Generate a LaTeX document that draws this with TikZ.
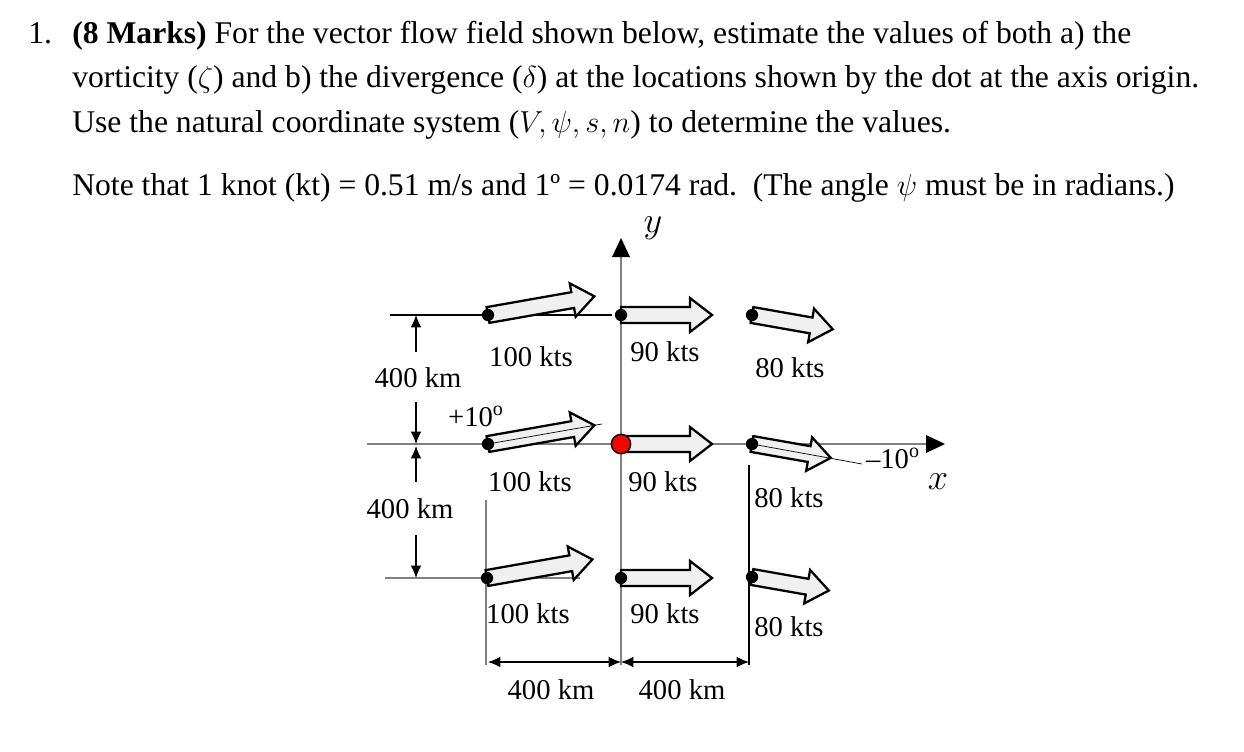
\documentclass[tikz,border=0pt]{standalone}
\usepackage{fontspec}
\setmainfont{Liberation Serif}
\usetikzlibrary{arrows.meta}
\begin{document}
\begin{tikzpicture}[x=0.02cm,y=-0.02cm,
  txt/.style={font=\fontsize{18}{21}\selectfont,inner sep=0pt,anchor=base west},
  lbl/.style={font=\fontsize{16.3}{19}\selectfont,inner sep=0pt},
  gline/.style={draw=gray,line width=0.9pt},
  bline/.style={draw=black,line width=0.6pt},
  dotb/.style={circle,fill=black,inner sep=0pt,minimum size=7pt},
  barrow/.style={fill=black!6,draw=black,line width=1.3pt,line join=miter}]
\useasboundingbox (0,0) rectangle (1244,751);
% text
\node[txt] (l0) at (28,43) {1.};
\node[txt] (l1) at (72,43) {\textbf{(8 Marks)} For the vector flow field shown below, estimate the values of both a) the};
\node[txt] (l2) at (72,87) {vorticity ($\zeta$) and b) the divergence ($\delta$) at the locations shown by the dot at the axis origin.};
\node[txt] (l3) at (72,132) {Use the natural coordinate system ($V,\psi,s,n$) to determine the values.};
\node[txt] (l4) at (72,195) {Note that 1 knot (kt) = 0.51 m/s and 1º = 0.0174 rad.\ \ (The angle $\psi$ must be in radians.)};
% axes
\coordinate (ytop) at (621,238);
\coordinate (ybot) at (621,665);
\coordinate (xl) at (367,444);
\coordinate (xr) at (945,444);
\draw[gline] (ybot) -- (621,255);
\fill (ytop) -- (612,257) -- (630,257) -- cycle;
\draw[gline] (xl) -- (928,444);
\fill (xr) -- (926,435) -- (926,453) -- cycle;
\node[lbl,font=\fontsize{20}{22}\selectfont] (ylab) at (653,228) {$y$};
\node[lbl,font=\fontsize{20}{22}\selectfont] (xlab) at (938,482) {$x$};
% row lines
\coordinate (t1) at (390,315); \coordinate (t2) at (612,315);
\draw[bline] (t1) -- (t2);
\coordinate (b1) at (385,578); \coordinate (b2) at (580,578);
\draw[gline] (b1) -- (b2);
\coordinate (v1a) at (486,500); \coordinate (v1b) at (486,665);
\draw[gline] (v1a) -- (v1b);
\coordinate (v3a) at (749,465); \coordinate (v3b) at (749,665);
\draw[bline] (v3a) -- (v3b);
% angle guides
\coordinate (g1) at (488,444); \coordinate (g1e) at (602,424);
\coordinate (g2) at (752,444); \coordinate (g2e) at (862,464);
% block arrows
\newcommand{\barr}[4]{\begin{scope}[shift={(#1,#2)},rotate=#3]
 \draw[barrow] (0,-8) -- (#4-22,-8) -- (#4-22,-17) -- (#4,0) -- (#4-22,17) -- (#4-22,8) -- (0,8) -- cycle;
\end{scope}}
\barr{488}{315}{10}{108}
\barr{621}{315}{0}{91}
\barr{752}{315}{-10}{82}
\barr{488}{444}{10}{108}
\barr{621}{444}{0}{91}
\barr{752}{444}{-10}{80}
\barr{487}{578}{10}{107}
\barr{621}{578}{0}{91}
\barr{752}{577}{-10}{78}
\draw[line width=0.4pt] (g1) -- (g1e);
\draw[line width=0.4pt] (g2) -- (g2e);
% dots
\foreach \n/\x/\y in {d1/488/315,d2/621/315,d3/752/315,d4/488/444,d6/752/444,d7/487/578,d8/621/578,d9/752/577}
  \node[dotb] (\n) at (\x,\y) {};
\node[circle,fill=red,draw=black,line width=0.8pt,inner sep=0pt,minimum size=11pt] (d5) at (621,444) {};
% left dimensions
\coordinate (a1) at (416,352); \coordinate (a1e) at (416,315);
\coordinate (a2) at (416,402); \coordinate (a2e) at (416,444);
\coordinate (a3) at (416,482); \coordinate (a3e) at (416,446);
\coordinate (a4) at (416,535); \coordinate (a4e) at (416,578);
\foreach \s/\e in {a1/a1e,a2/a2e,a3/a3e,a4/a4e}
  \draw[line width=0.6pt,-{Latex[length=7pt,width=6pt]}] (\s) -- (\e);
% bottom dimensions
\coordinate (h1) at (488,662); \coordinate (h2) at (621,662); \coordinate (h3) at (749,662);
\draw[line width=0.6pt,{Latex[length=7pt,width=6pt]}-{Latex[length=7pt,width=6pt]}] (h1) -- (h2);
\draw[line width=0.6pt,{Latex[length=7pt,width=6pt]}-{Latex[length=7pt,width=6pt]}] (h2) -- (h3);
% labels
\node[lbl] (k1) at (531,357) {100 kts};
\node[lbl] (k2) at (665,352) {90 kts};
\node[lbl] (k3) at (790,368) {80 kts};
\node[lbl] (m1) at (418,378) {400 km};
\node[lbl] (p10) at (476,416) {+10\textsuperscript{o}};
\node[lbl] (k4) at (530,482) {100 kts};
\node[lbl] (k5) at (663,482) {90 kts};
\node[lbl] (k6) at (789,498) {80 kts};
\node[lbl] (m2) at (410,509) {400 km};
\node[lbl] (n10) at (893,458) {–10\textsuperscript{o}};
\node[lbl] (k7) at (528,614) {100 kts};
\node[lbl] (k8) at (665,614) {90 kts};
\node[lbl] (k9) at (789,627) {80 kts};
\node[lbl] (m3) at (551,690) {400 km};
\node[lbl] (m4) at (682,690) {400 km};
\end{tikzpicture}
\end{document}
